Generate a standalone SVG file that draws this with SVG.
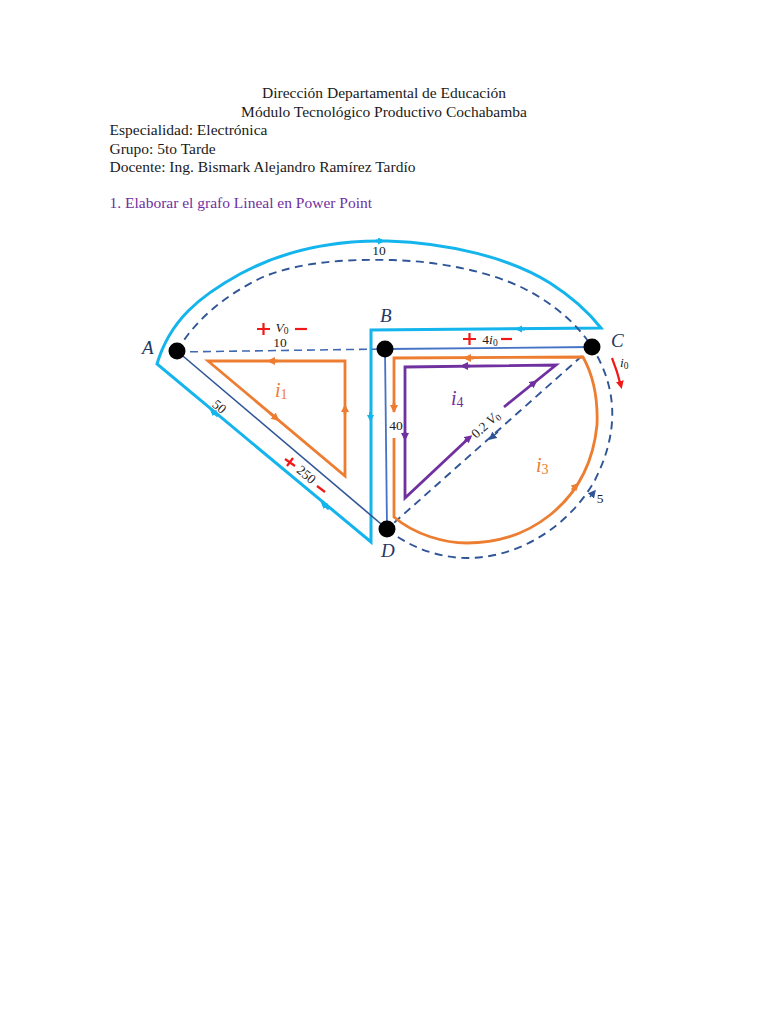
<svg xmlns="http://www.w3.org/2000/svg" width="768" height="1024" viewBox="0 0 768 1024">
<style>
.t{font-family:"Liberation Serif",serif;font-size:15.5px;fill:#1a1a1a}
.p{font-family:"Liberation Serif",serif;font-size:15.5px;fill:#7030a0}
.n{font-family:"Liberation Serif",serif;font-size:13.5px;fill:#222}
.s{font-size:9.5px;font-style:normal}
.l{font-family:"Liberation Serif",serif;font-style:italic;font-size:19px;fill:#1f3864}
.io{font-family:"Liberation Serif",serif;font-style:italic;font-size:20px;fill:#ed7d31}
.iv{font-family:"Liberation Serif",serif;font-style:italic;font-size:20px;fill:#7030a0}
.c{fill:none;stroke:#14b4ec;stroke-width:3;stroke-linejoin:miter}
.d{fill:none;stroke:#2f5597;stroke-width:1.9;stroke-dasharray:8 5.5}
.dl{fill:none;stroke:#3f68b4;stroke-width:1.6;stroke-dasharray:8 5}
.b{fill:none;stroke:#2f5597;stroke-width:1.6}
.lb{fill:none;stroke:#4472c4;stroke-width:1.8}
.o{fill:none;stroke:#ed7d31;stroke-width:2.8;stroke-linejoin:miter}
.v{fill:none;stroke:#7030a0;stroke-width:2.8;stroke-linejoin:miter}
.m{stroke:#f01818;stroke-width:2.2;fill:none}
</style>
<defs>
<marker id="mc" markerWidth="8" markerHeight="8" refX="4" refY="3.5" orient="auto" markerUnits="userSpaceOnUse"><path d="M0 0L7 3.5L0 7z" fill="#14b4ec"/></marker>
<marker id="mo" markerWidth="9" markerHeight="9" refX="5" refY="4" orient="auto" markerUnits="userSpaceOnUse"><path d="M0 0L8 4L0 8z" fill="#ed7d31"/></marker>
<marker id="mv" markerWidth="9" markerHeight="9" refX="5" refY="4" orient="auto" markerUnits="userSpaceOnUse"><path d="M0 0L8 4L0 8z" fill="#7030a0"/></marker>
<marker id="mb" markerWidth="9" markerHeight="9" refX="5" refY="4" orient="auto" markerUnits="userSpaceOnUse"><path d="M0 0L8 4L0 8z" fill="#2f5597"/></marker>
<marker id="mr" markerWidth="9" markerHeight="9" refX="5" refY="4" orient="auto" markerUnits="userSpaceOnUse"><path d="M0 0L8 4L0 8z" fill="#f01818"/></marker>
</defs>
<g id="heading">
<text class="t" x="384" y="98" text-anchor="middle">Dirección Departamental de Educación</text>
<text class="t" x="384" y="117" text-anchor="middle">Módulo Tecnológico Productivo Cochabamba</text>
<text class="t" x="109.500" y="135">Especialidad: Electrónica</text>
<text class="t" x="109.500" y="154">Grupo: 5to Tarde</text>
<text class="t" x="109.500" y="172">Docente: Ing. Bismark Alejandro Ramírez Tardío</text>
<text class="p" x="109.500" y="208">1. Elaborar el grafo Lineal en Power Point</text>
</g>
<g id="connectors">
<path class="c" d="M157 364C170 320 200 296 240 274C290 247 340 240 387 241C450 243 510 258 550 283C572 297 590 314 601 328L371 330L371 542Z"/>
<path class="c" d="M376 241L382 241" marker-end="url(#mc)"/>
<path class="c" d="M525 329L518 329" marker-end="url(#mc)"/>
<path class="c" d="M370.500 412L370.500 419" marker-end="url(#mc)"/>
<path class="c" d="M329 509L323 504" marker-end="url(#mc)"/>
<path class="c" d="M218 416L212 411" marker-end="url(#mc)"/>
<path class="d" d="M177 351C195 320 225 295 263 277C300 262 345 259 390 260C440 261 490 272 523 288C555 304 578 325 592 347"/>
<path class="dl" d="M177 352L385 349"/>
<path class="b" d="M177 351L387 529"/>
<path class="lb" d="M385 349L592 347"/>
<path class="lb" d="M385 349L387 529"/>
<path class="d" d="M592 347L387 529"/>
<path class="b" d="M498 432L491 438" marker-end="url(#mb)"/>
<path class="d" d="M387 529C410 548 440 558 467 558C520 558 570 525 595 480C615 440 622 395 592 347"/>
<path class="b" d="M590 497L594 492" marker-end="url(#mb)"/>
<path class="o" d="M208 361L345 361L345 476Z"/>
<path class="o" d="M278 361L270 361" marker-end="url(#mo)"/>
<path class="o" d="M345 414L345 407" marker-end="url(#mo)"/>
<path class="o" d="M270 413L277 419" marker-end="url(#mo)"/>
<path class="o" d="M394 412L394 358L583 357C593 375 598 400 597 425C593 465 575 495 550 515C525 535 495 543 467 543C445 543 415 535 394 517L394 438"/>
<path class="o" d="M394 403L394 410" marker-end="url(#mo)"/>
<path class="o" d="M474 358L466 358" marker-end="url(#mo)"/>
<path class="o" d="M572 490L577 485" marker-end="url(#mo)"/>
<path class="v" d="M470 437L405 498L405 367L556 365L504 407"/>
<path class="v" d="M405 432L405 438" marker-end="url(#mv)"/>
<path class="v" d="M470 366L463 366" marker-end="url(#mv)"/>
<path class="v" d="M530 386L535 382" marker-end="url(#mv)"/>
<path class="v" d="M465 441L470 437" marker-end="url(#mv)"/>
<path class="m" d="M612 358C616 368 619 378 621 386" marker-end="url(#mr)"/>
</g>
<g id="node-A"><circle cx="177" cy="351" r="8.500" fill="#000"/><text class="l" x="142" y="354">A</text></g>
<g id="node-B"><circle cx="385" cy="349" r="8.500" fill="#000"/><text class="l" x="380" y="322">B</text></g>
<g id="node-C"><circle cx="592" cy="347" r="8.500" fill="#000"/><text class="l" x="611" y="347">C</text></g>
<g id="node-D"><circle cx="387" cy="529" r="8.500" fill="#000"/><text class="l" x="381" y="557">D</text></g>
<g id="labels">
<text class="n" x="379" y="255" text-anchor="middle">10</text>
<text class="n" x="280" y="347" text-anchor="middle">10</text>
<text class="n" x="396" y="430" text-anchor="middle">40</text>
<text class="n" x="600" y="503" text-anchor="middle">5</text>
<text class="n" transform="translate(219 407) rotate(40)" text-anchor="middle" y="4">50</text>
<text class="n" transform="translate(306 475) rotate(40)" text-anchor="middle" y="4">250</text>
<text class="n" transform="translate(486 425) rotate(-42)" text-anchor="middle" y="4">0.2 <tspan font-style="italic">V</tspan><tspan class="s" dy="2">0</tspan></text>
<text class="n" x="490" y="344" text-anchor="middle">4<tspan font-style="italic">i</tspan><tspan class="s" dy="2">0</tspan></text>
<text class="n" x="282" y="332" text-anchor="middle"><tspan font-style="italic">V</tspan><tspan class="s" dy="2">0</tspan></text>
<text class="n" x="620" y="367"><tspan font-style="italic">i</tspan><tspan class="s" dy="2">0</tspan></text>
<text class="io" x="275" y="397">i<tspan font-size="14" font-style="normal" dy="2">1</tspan></text>
<text class="io" x="536" y="472">i<tspan font-size="14" font-style="normal" dy="2">3</tspan></text>
<text class="iv" x="451" y="405">i<tspan font-size="14" font-style="normal" dy="2">4</tspan></text>
<path class="m" d="M257 329H270M263.500 323V335"/>
<path class="m" d="M295 329H307"/>
<path class="m" d="M463 339H476M469.500 333V345"/>
<path class="m" d="M501 339H512"/>
<path class="m" d="M285 459L295 466M287 466L293 458"/>
<path class="m" d="M317 486L325 492"/>
</g>
</svg>
